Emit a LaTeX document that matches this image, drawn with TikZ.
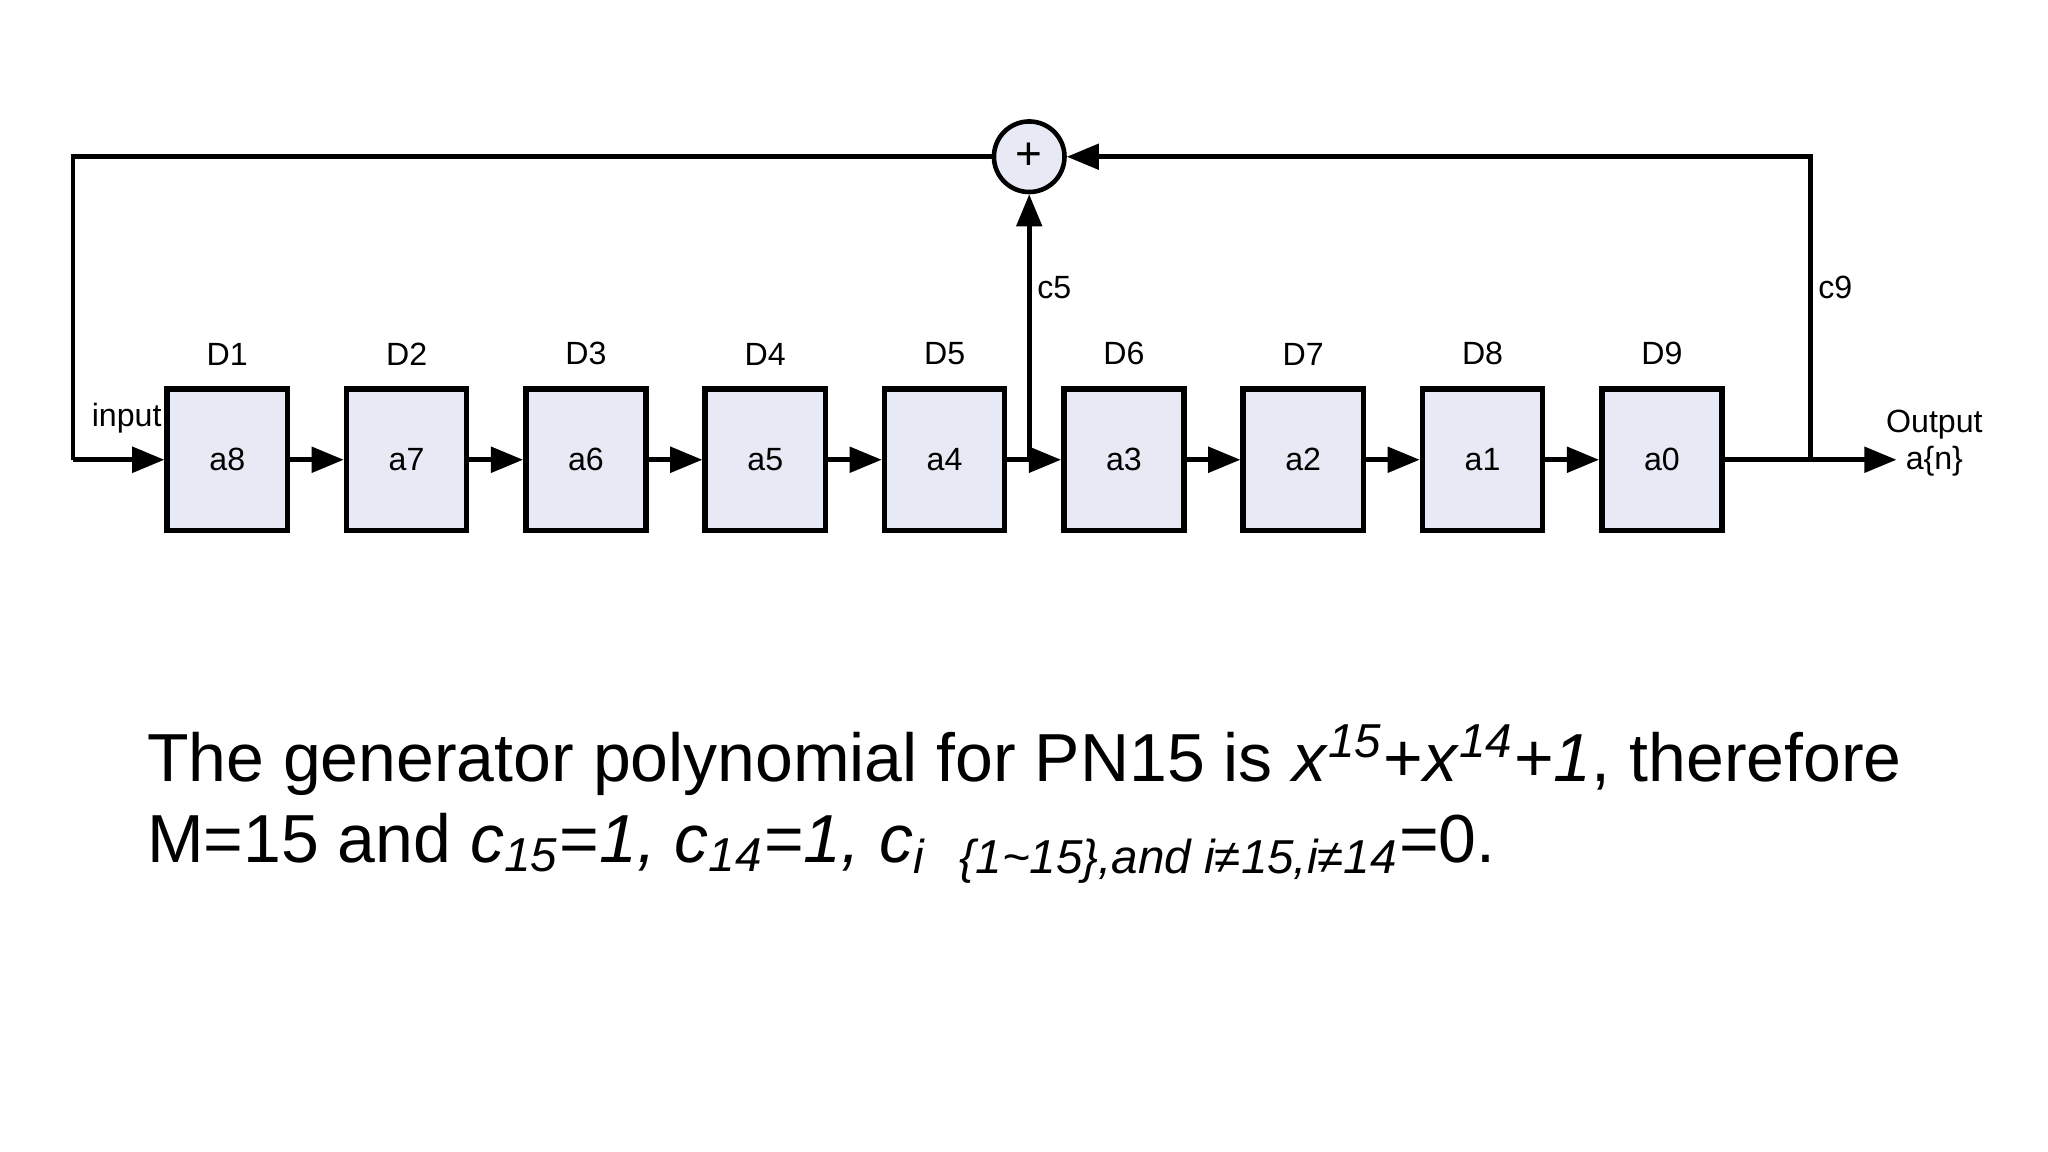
\documentclass[tikz,border=0pt]{standalone}
\usepackage{fontspec}
\setmainfont{Liberation Sans}
\usetikzlibrary{arrows.meta}
\definecolor{boxfill}{HTML}{E7EAF4}
\begin{document}
\begin{tikzpicture}[x=0.01cm,y=-0.01cm,
  reg/.style={draw,line width=1.2pt,fill=boxfill,minimum width=0.92cm,minimum height=1.08cm,inner sep=0pt,font=\fontsize{7}{8}\selectfont},
  lbl/.style={font=\fontsize{7}{8}\selectfont,inner sep=1pt},
  wire/.style={line width=1pt},
  arr/.style={wire,-{Triangle[length=7pt,width=5.5pt]}}]
\useasboundingbox (0,0) rectangle (1568,882);
\foreach \i/\a [count=\k from 0] in {1/a8,2/a7,3/a6,4/a5,5/a4,6/a3,7/a2,8/a1,9/a0}{
  \node[reg] (b\i) at ({174+137.3*\k},352) {\a};
  \node[lbl,anchor=south,yshift=0.12cm] (d\i) at (b\i.north) {D\i};
}
\node[draw,circle,line width=1pt,fill=boxfill,minimum size=0.54cm,inner sep=0pt] (sum) at (788,120) {+};
\coordinate (inl) at (56,352);
\coordinate (tl) at (56,120);
\coordinate (tap5) at (788,352);
\coordinate (tap9) at (1386,352);
\coordinate (tr) at (1386,120);
\coordinate (out) at (1452,352);
\draw[wire] (sum.west) -- (tl) -- (inl);
\draw[arr] (inl) -- (b1.west);
\foreach \i/\j in {1/2,2/3,3/4,4/5,5/6,6/7,7/8,8/9}{\draw[arr] (b\i.east) -- (b\j.west);}
\draw[arr] (tap5) -- (sum.south);
\draw[arr] (b9.east) -- (out);
\draw[arr] (tap9) -- (tr) -- (sum.east);
\node[lbl] (inp) at (97,320) {input};
\node[lbl,anchor=west] (c5) at (790,220) {c5};
\node[lbl,anchor=west] (c9) at (1388,220) {c9};
\node[lbl,align=center] (outl) at (1481,339) {Output\\a\{n\}};
\node[anchor=base west,inner sep=0pt,font=\fontsize{14.8}{18}\selectfont] (t1) at (112,598)
  {The generator polynomial for PN15 is \textit{x}\textsuperscript{\textit{15}}+\textit{x}\textsuperscript{\textit{14}}+\textit{1}, therefore};
\node[anchor=base west,inner sep=0pt,font=\fontsize{14.8}{18}\selectfont] (t2) at (112,660)
  {M=15 and \textit{c}\textsubscript{\textit{15}}=\textit{1, c}\textsubscript{\textit{14}}=\textit{1, c}\textsubscript{\textit{i∈\{1\textasciitilde15\},and i≠15,i≠14}}=0.};
\end{tikzpicture}
\end{document}
